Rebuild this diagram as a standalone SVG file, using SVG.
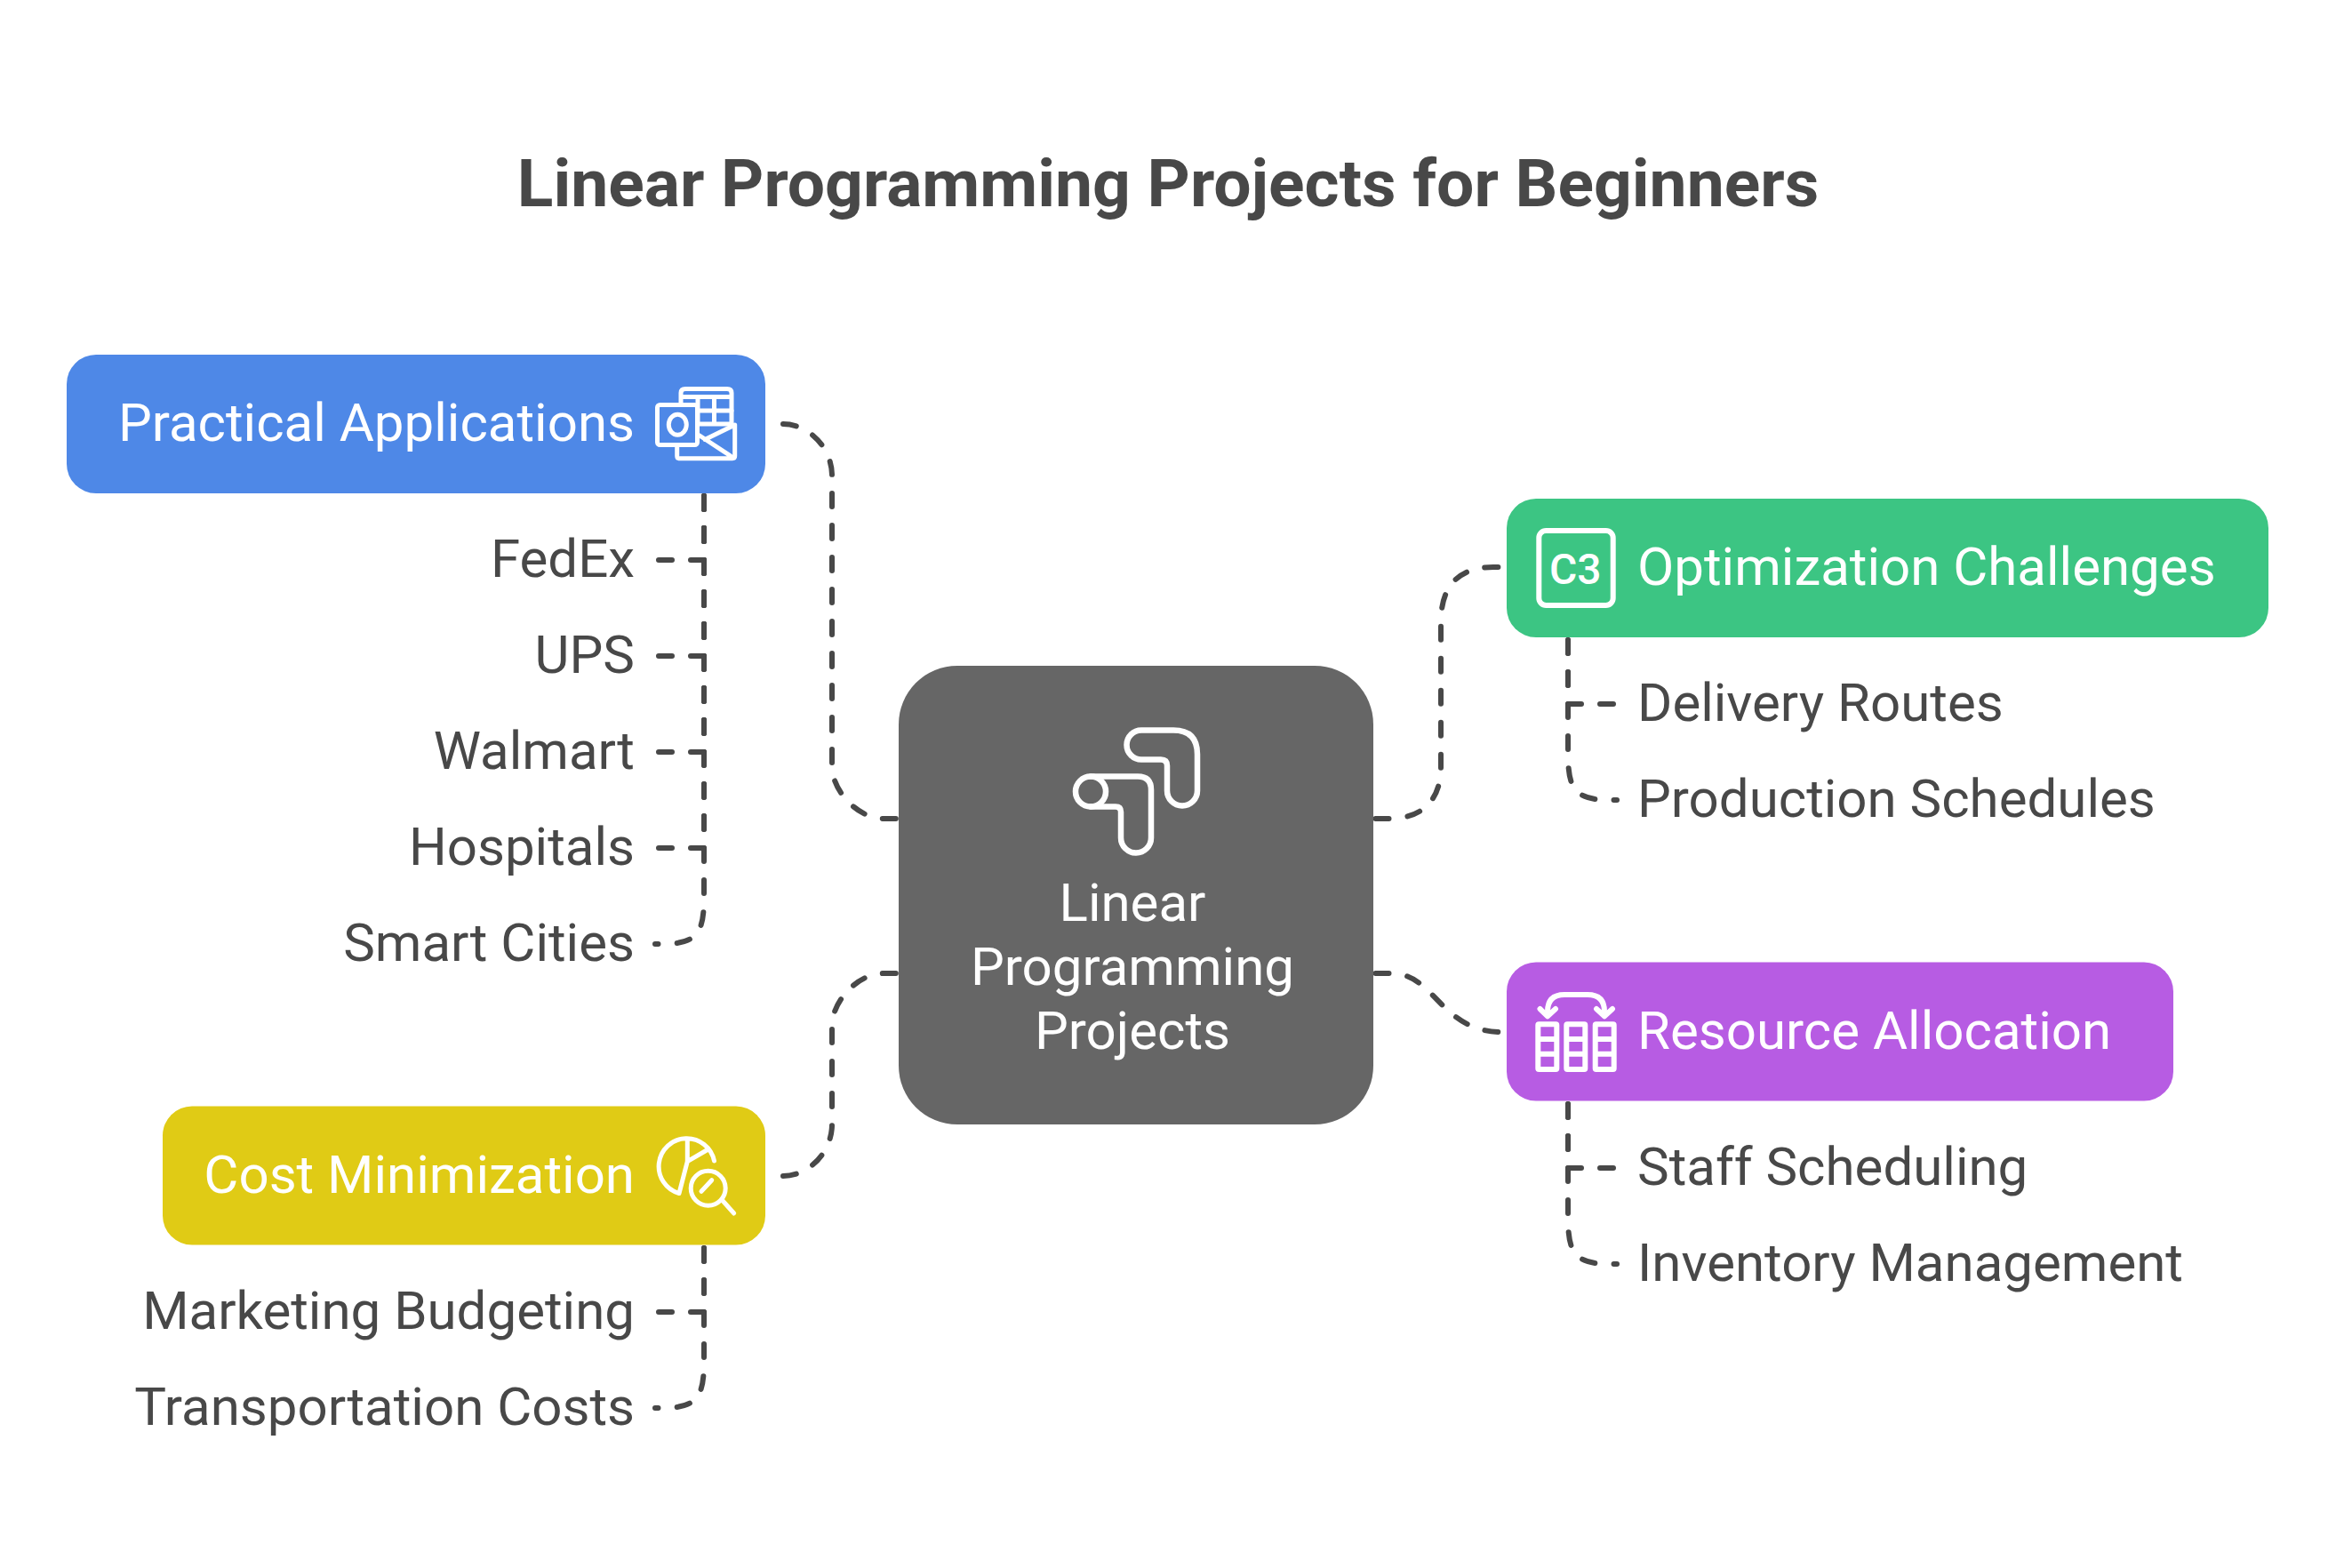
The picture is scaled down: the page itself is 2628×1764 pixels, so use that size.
<svg xmlns="http://www.w3.org/2000/svg" width="2628" height="1764" viewBox="0 0 2628 1764">
<style>
text{font-family:Roboto,"Liberation Sans",sans-serif;font-size:60px;fill:#484848}
.w{fill:#fff}
.e{text-anchor:end}
.m{text-anchor:middle}
.t{font-size:75px;font-weight:700}
.c path,.c line,.c rect,.c ellipse,.c circle{fill:none;stroke:#fff;stroke-linecap:round;stroke-linejoin:round}
#connectors path{fill:none;stroke:#484848;stroke-width:6;stroke-dasharray:15 21;stroke-linecap:round;stroke-linejoin:round}
</style>
<rect width="2628" height="1764" fill="#fff"/>
<text class="t m" x="1314" y="231.500">Linear Programming Projects for Beginners</text>
<g id="connectors">
<path d="M881 477C910 477 936 504 936 535V862C936 888 963 921 995 921H1014"/>
<path d="M881 1323C910 1323 936 1296 936 1265V1154C936 1128 963 1095 995 1095H1014"/>
<path d="M1547.500 921H1563C1600 921 1621 900 1621 863V700C1621 660 1640 638 1680 638H1695"/>
<path d="M1547.500 1095H1565C1615 1095 1620 1161 1690 1161"/>
<path d="M792 558V630H741"/>
<path d="M792 558V738H741"/>
<path d="M792 558V846H741"/>
<path d="M792 558V954H741"/>
<path d="M792 558V1008C792 1048 786 1062 745 1062H737"/>
<path d="M792 1404V1476H741"/>
<path d="M792 1404V1530C792 1570 786 1584 745 1584H737"/>
<path d="M1764 720V792H1815"/>
<path d="M1764 720V846C1764 886 1770 900 1811 900H1819"/>
<path d="M1764 1242V1314H1815"/>
<path d="M1764 1242V1368C1764 1408 1770 1422 1811 1422H1819"/>
</g>
<g id="center">
<rect x="1011" y="749" width="534" height="516" rx="66" fill="#666666"/>
<g class="c" stroke-width="6.5" transform="translate(0 -0.5)">
<path d="M1284 822H1320Q1347 822 1347 849V890A17 17 0 0 1 1313 890V862Q1313 855 1306 855H1284A16.500 16.500 0 0 1 1284 822Z"/>
<path d="M1227 874H1280Q1295 874 1295 889V943A17 17 0 0 1 1261 943V914Q1261 908 1255 908H1227"/>
<circle cx="1227" cy="891" r="17"/>
</g>
<text class="w m" x="1274" y="1035.500">Linear</text>
<text class="w m" x="1274" y="1107.500">Programming</text>
<text class="w m" x="1274" y="1179.500">Projects</text>
</g>
<g id="practical">
<rect x="75" y="399" width="786" height="156" rx="33" fill="#4e88e7"/>
<text class="w e" x="714" y="496">Practical Applications</text>
<g class="c" stroke-width="5">
<path d="M766 453V442Q766 437.500 771 437.500H818Q823 437.500 823 442V477"/>
<path d="M767 446.500H822M785 477H823M785 462H823M785 447V477M803.500 447V477"/>
<rect x="739.500" y="455.500" width="45" height="45" rx="3"/>
<ellipse cx="762.300" cy="477.700" rx="10" ry="11.500"/>
<path d="M761.700 503V513Q761.700 515.700 764 515.700H824Q826.700 515.700 826.700 513V478L793 494.500M787 490L822 513"/>
</g>
</g>
<g id="cost">
<rect x="183" y="1244.500" width="678" height="156" rx="33" fill="#e0cb15"/>
<text class="w e" x="714" y="1341.500">Cost Minimization</text>
<g class="c" stroke-width="5">
<path d="M803.500 1306A31.500 31.500 0 1 0 764 1342.500L773.300 1306.700V1282M773.300 1306.700L796.700 1293"/>
<circle cx="796.700" cy="1336.700" r="19.500"/>
<path d="M812.300 1350L825.700 1365M789 1340.300L800.700 1327.700"/>
</g>
</g>
<g id="optimization">
<rect x="1695" y="561" width="857" height="156" rx="33" fill="#3cc583"/>
<g class="c" stroke-width="6"><rect x="1731.300" y="597" width="83.400" height="84" rx="8"/></g>
<text class="w" x="1743" y="657" style="font-size:48px;font-weight:500">C3</text>
<text class="w" x="1842" y="657.500">Optimization Challenges</text>
</g>
<g id="resource">
<rect x="1695" y="1082.500" width="750" height="156" rx="33" fill="#b75ce3"/>
<g class="c" stroke-width="6">
<rect x="1730.300" y="1152.300" width="21" height="50.700" rx="1"/>
<rect x="1762.300" y="1152.300" width="21" height="50.700" rx="1"/>
<rect x="1794.700" y="1152.300" width="21" height="50.700" rx="1"/>
<path d="M1733 1169H1749M1733 1185.700H1749M1765 1169H1781M1765 1185.700H1781M1797 1169H1813M1797 1185.700H1813"/>
<path d="M1741 1142V1138Q1741 1119 1760 1119H1786Q1805 1119 1805 1138V1142"/>
<path d="M1732.500 1135L1741 1143.300L1750 1135M1796 1135L1805 1143.300L1814 1135"/>
</g>
<text class="w" x="1842" y="1179.500">Resource Allocation</text>
</g>
<g id="practical-items">
<text class="e" x="714" y="648.500">FedEx</text>
<text class="e" x="714" y="756.500">UPS</text>
<text class="e" x="714" y="864.500">Walmart</text>
<text class="e" x="714" y="972.500">Hospitals</text>
<text class="e" x="714" y="1080.500">Smart Cities</text>
</g>
<g id="cost-items">
<text class="e" x="714" y="1494.500">Marketing Budgeting</text>
<text class="e" x="714" y="1602.500">Transportation Costs</text>
</g>
<g id="optimization-items">
<text x="1842" y="810.500">Delivery Routes</text>
<text x="1842" y="918.500">Production Schedules</text>
</g>
<g id="resource-items">
<text x="1842" y="1332.500">Staff Scheduling</text>
<text x="1842" y="1440.500">Inventory Management</text>
</g>
</svg>
